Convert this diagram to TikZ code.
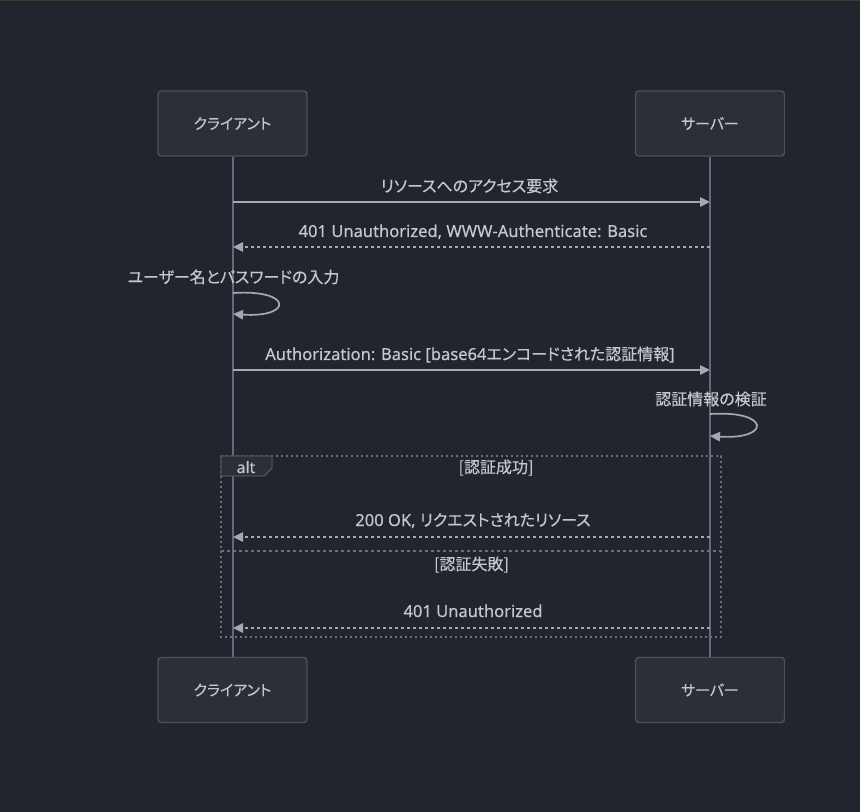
\documentclass[tikz,border=0pt]{standalone}
\usepackage{fontspec}
\setmainfont{Noto Sans}[FakeBold=0.35]
\newfontfamily\jp[RawFeature=+palt, Scale=0.968, FakeBold=0.35]{Noto Sans CJK JP}
\usetikzlibrary{arrows.meta}
\definecolor{bg}{HTML}{22252D}
\definecolor{topline}{HTML}{3A3A32}
\definecolor{boxfill}{HTML}{2C2F38}
\definecolor{boxline}{HTML}{4B505D}
\definecolor{lifeline}{HTML}{646A7B}
\definecolor{msgline}{HTML}{A3A8B3}
\definecolor{txt}{HTML}{C3C7CF}
\definecolor{framec}{HTML}{6A7080}
\tikzset{
  actor/.style={draw=boxline, fill=boxfill, line width=1.1pt, rounded corners=2.5pt,
    minimum width=111.75pt, minimum height=48.75pt, text=txt, font=\fontsize{11.6pt}{13pt}\jp},
  life/.style={draw=lifeline, line width=1.5pt},
  msg/.style={draw=msgline, line width=1.3pt, -{Triangle[length=7.5pt,width=7pt]}},
  reply/.style={msg, dash pattern=on 2.25pt off 2.25pt},
  lbl/.style={text=txt, anchor=base, inner sep=0pt, font=\fontsize{12.4pt}{14pt}\selectfont},
  frame/.style={draw=framec, line width=1.1pt, dash pattern=on 1.5pt off 2.25pt},
  divider/.style={draw=framec, line width=1.1pt, dash pattern=on 2.25pt off 2.25pt},
}
\begin{document}
\begin{tikzpicture}[x=0.75pt,y=-0.75pt]
\fill[bg] (0,0) rectangle (860,812);
\fill[topline] (0,0) rectangle (860,1.5);
\useasboundingbox (0,0) rectangle (860,812);

% actors
\node[actor] (c1) at (232.5,123.5) {クライアント};
\node[actor] (s1) at (710,123.5) {サーバー};
\node[actor] (c2) at (232.5,690) {クライアント};
\node[actor] (s2) at (710,690) {サーバー};

% lifelines
\draw[life] (c1.south) -- (c2.north);
\draw[life] (s1.south) -- (s2.north);

% alt frame
\coordinate (fa) at (221,456);
\coordinate (fb) at (721,637);
\draw[frame] (fa) rectangle (fb);
\coordinate (da) at (221,551);
\coordinate (db) at (721,551);
\draw[divider] (da) -- (db);
\draw[draw=boxline, fill=boxfill, line width=1.1pt] (221,456) -- (272,456) -- (272,468) -- (264,476) -- (221,476) -- cycle;
\node[lbl, font=\fontsize{11.8pt}{14pt}\selectfont] (altl) at (246,473) {alt};
\node[lbl] (g1) at (496,473) {{\jp [認証成功]}};
\node[lbl] (g2) at (471.5,570) {{\jp [認証失敗]}};

% message 1
\coordinate (m1a) at (233,202); \coordinate (m1b) at (710,202);
\draw[msg] (m1a) -- (m1b);
\node[lbl] (t1) at (469.5,192) {\jp リソースへのアクセス要求};

% message 2
\coordinate (m2a) at (710,247); \coordinate (m2b) at (233,247);
\draw[reply] (m2a) -- (m2b);
\node[lbl] (t2) at (473,237) {401 Unauthorized, WWW-Authenticate: Basic};

% self 1
\coordinate (s1a) at (233,293); \coordinate (s1b) at (233,314);
\draw[msg] (s1a) .. controls (293,289) and (293,318) .. (s1b);
\node[lbl] (t3) at (233.5,283) {\jp ユーザー名とパスワードの入力};

% message 3
\coordinate (m3a) at (233,370); \coordinate (m3b) at (710,370);
\draw[msg] (m3a) -- (m3b);
\node[lbl] (t4) at (470,360) {Authorization: Basic [base64{\jp エンコードされた認証情報}]};

% self 2
\coordinate (s2a) at (710,414); \coordinate (s2b) at (710,436);
\draw[msg] (s2a) .. controls (771,410) and (771,440) .. (s2b);
\node[lbl] (t5) at (711,405) {\jp 認証情報の検証};

% message 4
\coordinate (m4a) at (710,537); \coordinate (m4b) at (233,537);
\draw[reply] (m4a) -- (m4b);
\node[lbl] (t6) at (473,526) {200 OK, {\jp リクエストされたリソース}};

% message 5
\coordinate (m5a) at (710,628); \coordinate (m5b) at (233,628);
\draw[reply] (m5a) -- (m5b);
\node[lbl] (t7) at (473,617) {401 Unauthorized};
\end{tikzpicture}
\end{document}
